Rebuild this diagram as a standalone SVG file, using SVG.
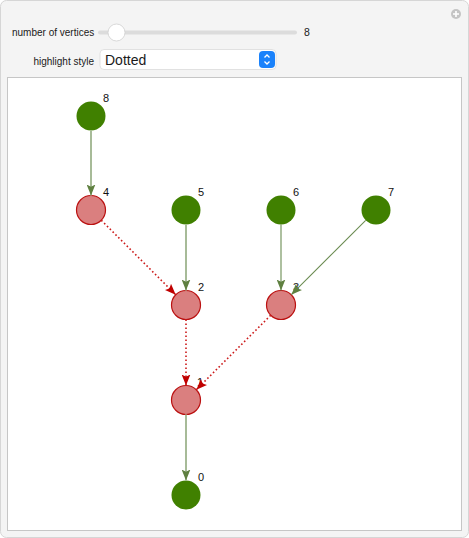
<svg xmlns="http://www.w3.org/2000/svg" width="469" height="538" viewBox="0 0 469 538">
<style>
.ui{font-family:"Liberation Sans",Arial,sans-serif;fill:#1a1a1a}
.lbl{font-family:"Liberation Sans",Arial,sans-serif;font-size:11px;fill:#111}
.g{fill:#408000}
.r{fill:#da7f7f;stroke:#bb1111;stroke-width:1.2}
.eg{stroke:#a7bb98;stroke-width:2;fill:none}
.eg2{stroke:#6b8c52;stroke-width:1.1;fill:none}
.er{stroke:#cc1a1a;stroke-width:1.6;stroke-dasharray:1.6 2.4;fill:none}
</style>
<defs>
<marker id="ag" viewBox="0 0 10 8" refX="10" refY="4" markerWidth="11" markerHeight="9" markerUnits="userSpaceOnUse" orient="auto"><path d="M0,0 L10,4 L0,8 L2,4 Z" fill="#5f8040"/></marker>
<marker id="ar" viewBox="0 0 10 8" refX="10" refY="4" markerWidth="11" markerHeight="9" markerUnits="userSpaceOnUse" orient="auto"><path d="M0,0 L10,4 L0,8 L2,4 Z" fill="#c00000"/></marker>
</defs>
<rect x="0.5" y="0.5" width="468" height="537" rx="6" fill="#f4f4f4" stroke="#d6d6d6"/>
<g id="controls">
<circle cx="456" cy="14" r="5" fill="#c4c4c4"/>
<path d="M453,14 H459 M456,11 V17" stroke="#fff" stroke-width="1.6"/>
<text class="ui" x="12" y="36" font-size="10">number of vertices</text>
<rect x="98" y="30.5" width="199" height="4" rx="2" fill="#dcdcdc"/>
<circle cx="116.5" cy="32.5" r="8.5" fill="#fff" stroke="#cfcfcf" stroke-width="0.8"/>
<text class="ui" x="304" y="36" font-size="10.5">8</text>
<text class="ui" x="94" y="65" font-size="10" text-anchor="end">highlight style</text>
<rect x="100" y="49.5" width="176" height="20" rx="4" fill="#fff" stroke="#dadada" stroke-width="0.8"/>
<text class="ui" x="105" y="65" font-size="14">Dotted</text>
<rect x="259" y="51" width="16" height="17" rx="4" fill="#1a82fb"/>
<path d="M264.5,57.5 L267,55 L269.5,57.5 M264.5,61.5 L267,64 L269.5,61.5" stroke="#fff" stroke-width="1.3" fill="none"/>
</g>
<rect x="7.5" y="77.5" width="454" height="453" fill="#fff" stroke="#c6c6c6"/>
<g id="n8"><circle class="g" cx="91" cy="116" r="14.5"/><text class="lbl" x="103" y="102">8</text></g>
<g id="n4"><circle class="r" cx="91" cy="210" r="14.5"/><text class="lbl" x="103" y="196">4</text></g>
<g id="n5"><circle class="g" cx="186" cy="210" r="14.5"/><text class="lbl" x="198" y="196">5</text></g>
<g id="n6"><circle class="g" cx="281" cy="210" r="14.5"/><text class="lbl" x="293" y="196">6</text></g>
<g id="n7"><circle class="g" cx="376" cy="210" r="14.5"/><text class="lbl" x="388" y="196">7</text></g>
<g id="n2"><circle class="r" cx="186" cy="305" r="14.5"/><text class="lbl" x="198" y="291">2</text></g>
<g id="n3"><circle class="r" cx="281" cy="305" r="14.5"/><text class="lbl" x="293" y="291">3</text></g>
<g id="n1"><circle class="r" cx="186" cy="400" r="14.5"/><text class="lbl" x="197" y="386">1</text></g>
<g id="n0"><circle class="g" cx="186" cy="495" r="14.5"/><text class="lbl" x="198" y="481">0</text></g>
<g id="edges">
<line class="eg" x1="91" y1="130.5" x2="91" y2="195.5" marker-end="url(#ag)"/>
<line class="eg" x1="186" y1="224.5" x2="186" y2="290.5" marker-end="url(#ag)"/>
<line class="eg2" x1="281" y1="224.5" x2="281" y2="290.5" marker-end="url(#ag)"/>
<line class="eg2" x1="365.7" y1="220.3" x2="291.3" y2="294.7" marker-end="url(#ag)"/>
<line class="er" x1="101.3" y1="220.3" x2="175.7" y2="294.7" marker-end="url(#ar)"/>
<line class="er" x1="186" y1="319.5" x2="186" y2="385.5" marker-end="url(#ar)"/>
<line class="er" x1="270.7" y1="315.3" x2="196.3" y2="389.7" marker-end="url(#ar)"/>
<line class="eg" x1="186" y1="414.5" x2="186" y2="480.5" marker-end="url(#ag)"/>
</g>
</svg>
